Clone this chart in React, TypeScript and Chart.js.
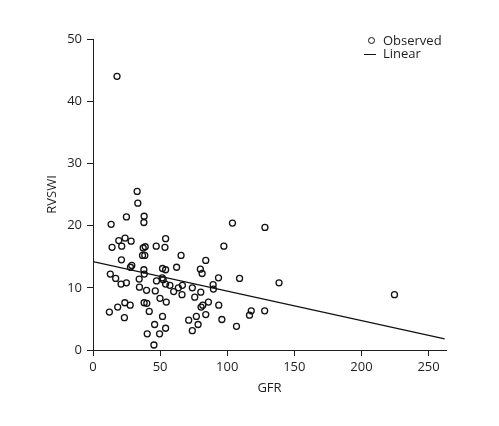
import { useEffect, useRef } from "react";
import Chart from "chart.js/auto";

// GFR (x) and RVSWI (y)
const gfr = [
  17.9, 32.9, 33.4, 38.1, 37.9, 24.9, 13.5, 103.9, 128.1, 19.2, 23.9, 28.4, 14.2, 21.4, 54.1,
  47.1, 53.6, 38.9, 37.4, 36.9, 38.6, 97.5, 65.6, 84.0, 21.2, 28.9, 27.9, 37.9, 38.2, 51.8,
  54.1, 62.3, 80.0, 81.3, 12.9, 16.9, 34.4, 47.3, 51.6, 52.3, 93.5, 109.2, 138.6, 20.9, 24.9,
  34.6, 54.1, 57.3, 66.6, 63.6, 74.0, 89.5, 89.7, 39.9, 46.4, 60.1, 80.3, 66.3, 75.8, 49.9,
  54.6, 224.6, 23.7, 27.7, 38.1, 40.1, 86.0, 93.7, 80.5, 81.8, 18.4, 12.2, 41.9, 127.9, 117.9,
  116.6, 51.8, 77.0, 84.0, 23.4, 71.3, 96.0, 45.9, 78.3, 106.9, 54.1, 74.0, 40.4, 49.6, 45.4,
];
const rvswi = [
  44.0, 25.5, 23.6, 21.5, 20.5, 21.4, 20.2, 20.4, 19.7, 17.6, 18.0, 17.5, 16.5, 16.7, 17.9,
  16.7, 16.5, 16.6, 16.4, 15.2, 15.2, 16.7, 15.2, 14.4, 14.5, 13.6, 13.3, 12.9, 12.2, 13.1,
  12.9, 13.3, 13.0, 12.3, 12.2, 11.5, 11.4, 11.1, 11.6, 11.3, 11.6, 11.5, 10.8, 10.6, 10.8,
  10.1, 10.6, 10.4, 10.4, 10.0, 10.0, 10.5, 9.8, 9.6, 9.5, 9.4, 9.3, 8.9, 8.5, 8.3,
  7.7, 8.9, 7.6, 7.2, 7.6, 7.5, 7.7, 7.2, 6.9, 7.2, 6.9, 6.1, 6.2, 6.3, 6.3,
  5.6, 5.4, 5.4, 5.7, 5.2, 4.8, 4.9, 4.1, 4.1, 3.8, 3.5, 3.1, 2.6, 2.6, 0.8,
];
// linear fit end points
const fitX = [0, 262];
const fitY = [14.2, 1.8];

const FONT = "'Open Sans', sans-serif";
const INK = "#1e1e1e";

function App() {
  const canvasRef = useRef<HTMLCanvasElement | null>(null);

  useEffect(() => {
    if (!canvasRef.current) return;
    const chart = new Chart(canvasRef.current, {
      type: "scatter",
      data: {
        datasets: [
          {
            label: "Observed",
            data: gfr.map((x, i) => ({ x, y: rvswi[i] })),
            pointRadius: 3,
            pointBorderWidth: 1.3,
            pointBorderColor: "#111",
            pointBackgroundColor: "rgba(0,0,0,0)",
            pointHoverRadius: 3,
          },
          {
            label: "Linear",
            data: fitX.map((x, i) => ({ x, y: fitY[i] })),
            showLine: true,
            pointRadius: 0,
            borderColor: "#111",
            borderWidth: 1.3,
          },
        ],
      },
      options: {
        responsive: false,
        animation: false,
        devicePixelRatio: 1,
        layout: { padding: { top: 39, right: 53, left: 0, bottom: 0 } },
        plugins: { legend: { display: false }, tooltip: { enabled: false } },
        scales: {
          x: {
            type: "linear",
            min: 0,
            max: 263,
            afterFit: (s: any) => {
              s.height = 76;
            },
            border: { display: true, color: INK, width: 1 },
            grid: { display: true, drawOnChartArea: false, drawTicks: true, tickLength: 6, color: INK },
            ticks: {
              stepSize: 50,
              includeBounds: false,
              padding: 3,
              color: INK,
              font: { family: FONT, size: 13 },
            },
            title: {
              display: true,
              text: "GFR",
              color: INK,
              font: { family: FONT, size: 13 },
              padding: { top: 0, bottom: 30 },
            },
          },
          y: {
            type: "linear",
            min: 0,
            max: 50,
            afterFit: (s: any) => {
              s.width = 93;
            },
            border: { display: true, color: INK, width: 1 },
            grid: { display: true, drawOnChartArea: false, drawTicks: true, tickLength: 6, color: INK },
            ticks: {
              stepSize: 10,
              padding: 5,
              color: INK,
              font: { family: FONT, size: 13 },
            },
            title: {
              display: true,
              text: "RVSWI",
              color: INK,
              font: { family: FONT, size: 13 },
              padding: { top: 44, bottom: 0 },
            },
          },
        },
      },
    });
    return () => {
      chart.destroy();
    };
  }, []);

  const labelStyle: React.CSSProperties = {
    position: "absolute",
    left: 383,
    fontFamily: FONT,
    fontSize: 13,
    lineHeight: "16px",
    color: INK,
    whiteSpace: "nowrap",
  };

  return (
    <div style={{ position: "fixed", left: 0, top: 0, width: 499, height: 426, background: "#fff" }}>
      <canvas ref={canvasRef} width={499} height={426} style={{ display: "block" }} />
      <div
        style={{
          position: "absolute",
          left: 367.5,
          top: 37,
          width: 5,
          height: 5,
          border: "1.2px solid #111",
          borderRadius: "50%",
        }}
      />
      <div style={{ ...labelStyle, top: 32 }}>Observed</div>
      <div style={{ position: "absolute", left: 364, top: 53.5, width: 12, height: 1.3, background: "#111" }} />
      <div style={{ ...labelStyle, top: 45 }}>Linear</div>
    </div>
  );
}

export default App;
